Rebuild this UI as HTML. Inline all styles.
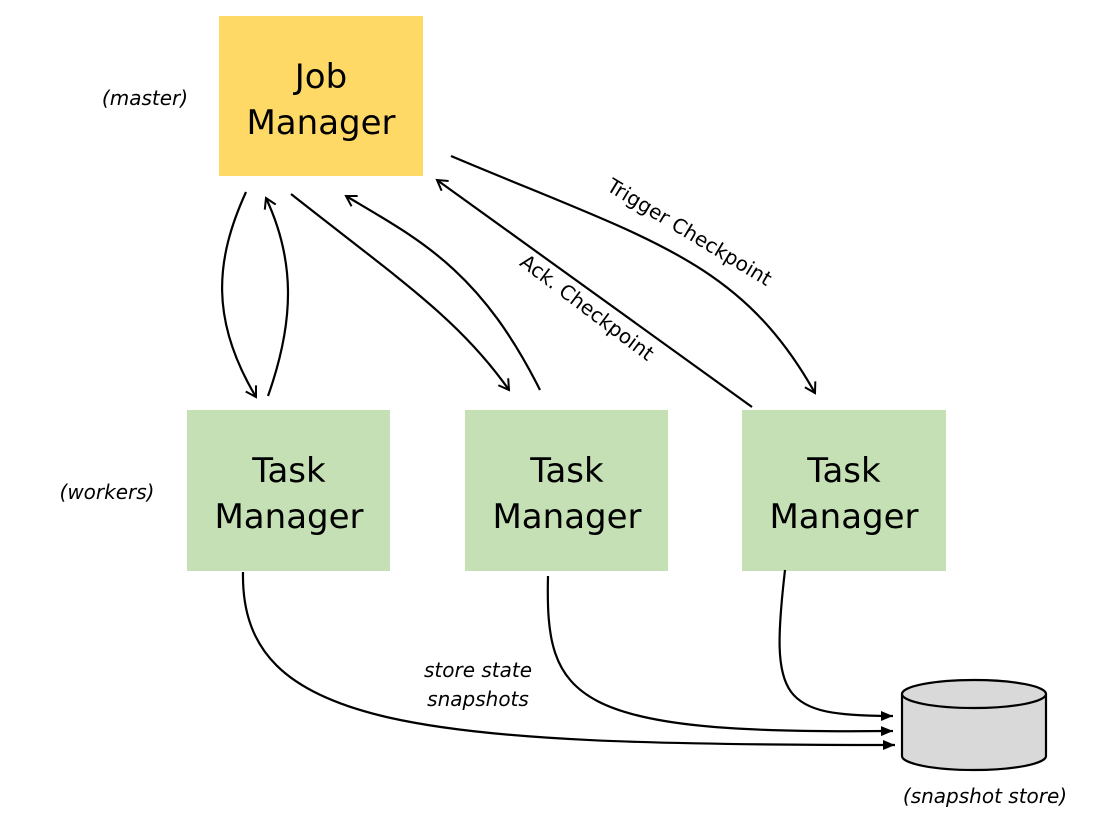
<!DOCTYPE html>
<html><head><style>body{margin:0;background:#fff}svg{display:block}</style></head><body>
<svg width="1118" height="830" viewBox="0 0 1118 830" xmlns="http://www.w3.org/2000/svg" font-family="'DejaVu Sans', Verdana, sans-serif">
<defs>
<marker id="o" markerWidth="14" markerHeight="14" refX="11" refY="7" orient="auto" markerUnits="userSpaceOnUse"><path d="M1,1 L11,7 L1,13" fill="none" stroke="#000" stroke-width="2"/></marker>
<marker id="f" markerWidth="14" markerHeight="12" refX="12" refY="6" orient="auto" markerUnits="userSpaceOnUse"><path d="M0,1 L12,6 L0,11 Z" fill="#000"/></marker>
</defs>
<rect x="219" y="16" width="204" height="160" fill="#ffd966"/>
<text x="321" y="88" font-size="34" text-anchor="middle">Job</text>
<text x="321" y="134" font-size="34" text-anchor="middle">Manager</text>
<g fill="#c5e0b4"><rect x="187" y="410" width="203" height="161"/><rect x="465" y="410" width="203" height="161"/><rect x="742" y="410" width="204" height="161"/></g>
<g font-size="34" text-anchor="middle">
<text x="289" y="482">Task</text><text x="289" y="528">Manager</text>
<text x="567" y="482">Task</text><text x="567" y="528">Manager</text>
<text x="844" y="482">Task</text><text x="844" y="528">Manager</text>
</g>
<g font-size="20" font-style="italic" text-anchor="middle">
<text x="145" y="105">(master)</text>
<text x="107" y="499">(workers)</text>
<text x="985" y="803">(snapshot store)</text>
<text x="478" y="677">store state</text>
<text x="478" y="706">snapshots</text>
</g>
<g fill="none" stroke="#000" stroke-width="2.2">
<path d="M246,192 C215,260 210,320 256,397" marker-end="url(#o)"/>
<path d="M268,396 C295,320 295,260 266,198" marker-end="url(#o)"/>
<path d="M291,194 C400,280 460,320 509,390" marker-end="url(#o)"/>
<path d="M540,390 C480,270 420,240 346,196" marker-end="url(#o)"/>
<path d="M752,407 L437,180" marker-end="url(#o)"/>
<path d="M451,156 C650,240 740,260 815,393" marker-end="url(#o)"/>
<path d="M243,572 C240,730 420,745 895,745" marker-end="url(#f)"/>
<path d="M548,576 C545,700 570,735 893,731" marker-end="url(#f)"/>
<path d="M785,570 C770,700 780,716 893,716" marker-end="url(#f)"/>
</g>
<text font-size="20" transform="translate(583,313) rotate(37)" text-anchor="middle">Ack. Checkpoint</text>
<text font-size="20" transform="translate(686,238) rotate(31)" text-anchor="middle">Trigger Checkpoint</text>
<path d="M902,694 L902,756 A72,14 0 0 0 1046,756 L1046,694" fill="#d9d9d9" stroke="#000" stroke-width="2.2"/>
<ellipse cx="974" cy="694" rx="72" ry="14" fill="#d9d9d9" stroke="#000" stroke-width="2.2"/>
</svg>
</body></html>
